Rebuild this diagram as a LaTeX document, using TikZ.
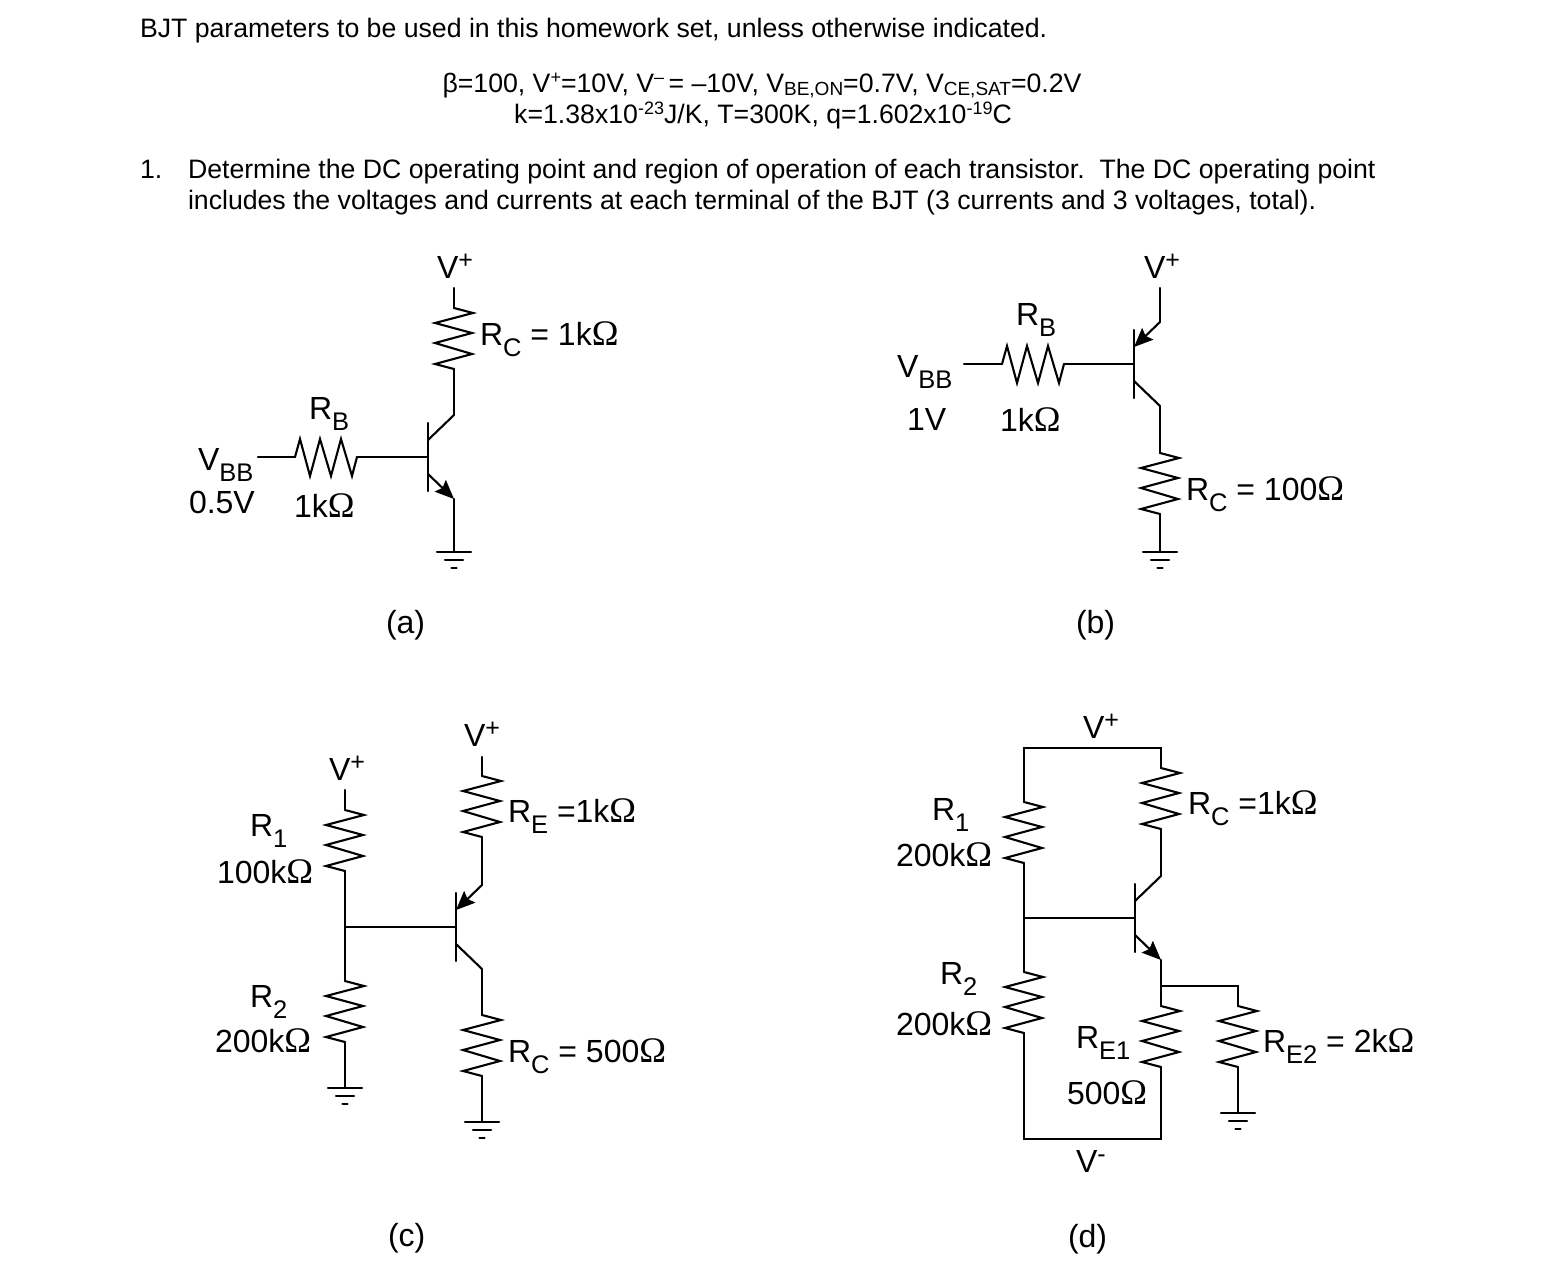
\documentclass[tikz,border=0pt]{standalone}
\usepackage{fontspec}
\setmainfont{Liberation Sans}
\newfontfamily\omgfont{Liberation Serif}
\usetikzlibrary{arrows.meta}
\newcommand{\Ohm}{{\omgfont\fontsize{36}{36}\selectfont Ω}}
\newcommand{\lsb}[1]{\raisebox{-11pt}{\fontsize{25.5}{25.5}\selectfont #1}}
\newcommand{\lsp}[1]{\raisebox{10pt}{\fontsize{25}{25}\selectfont #1}}
\newcommand{\tsb}[1]{\raisebox{-3.5pt}{\fontsize{19}{19}\selectfont #1}}
\newcommand{\tsp}[1]{\raisebox{9pt}{\fontsize{18}{18}\selectfont #1}}
\tikzset{
 wire/.style={line width=2.1pt,line cap=round,line join=miter,black},
 tip/.style={wire,-{Stealth[length=19pt,width=16pt,inset=3pt]}},
 lbl/.style={inner sep=0pt,outer sep=0pt,anchor=base west,font=\fontsize{32}{32}\selectfont},
 txt/.style={inner sep=0pt,outer sep=0pt,anchor=base west,font=\fontsize{26.67}{26.67}\selectfont},
 ctr/.style={inner sep=0pt,outer sep=0pt,anchor=base,font=\fontsize{26.67}{26.67}\selectfont}
}
% vertical resistor: name, x, y top
\newcommand{\vres}[3]{%
 \coordinate (#1-t) at (#2,#3);
 \coordinate (#1-b) at (#2,#3+61);
 \draw[wire] (#1-t) -- ++(19,5) -- ++(-38,10) -- ++(37,10) -- ++(-37,10) -- ++(37,11) -- ++(-37,10) -- (#1-b);}
% horizontal resistor: name, x left, y
\newcommand{\hres}[3]{%
 \coordinate (#1-l) at (#2,#3);
 \coordinate (#1-r) at (#2+62,#3);
 \draw[wire] (#1-l) -- ++(5,-18) -- ++(10,37) -- ++(10,-37) -- ++(11,37) -- ++(10,-37) -- ++(11,37) -- (#1-r);}
% transistor: name, bar x, base y
\newcommand{\bjtcoords}[3]{%
 \coordinate (#1-b) at (#2,#3);
 \coordinate (#1-u) at (#2,#3-17);
 \coordinate (#1-d) at (#2,#3+17);
 \coordinate (#1-ut) at (#2+26,#3-42);
 \coordinate (#1-dt) at (#2+26,#3+42);
 \draw[wire] (#2,#3-34) -- (#2,#3+34);}
\newcommand{\npn}[3]{\bjtcoords{#1}{#2}{#3}%
 \draw[wire] (#1-u) -- (#1-ut);
 \draw[tip] (#1-d) -- (#1-dt);}
\newcommand{\pnp}[3]{\bjtcoords{#1}{#2}{#3}%
 \draw[wire] (#1-d) -- (#1-dt);
 \draw[tip] (#1-ut) -- (#1-u);}
% ground: name, x, y
\newcommand{\gnd}[3]{%
 \coordinate (#1) at (#2,#3);
 \draw[wire] (#2-17,#3) -- (#2+17,#3);
 \draw[wire] (#2-9,#3+8) -- (#2+9,#3+8);
 \draw[wire] (#2-2.5,#3+16) -- (#2+2.5,#3+16);}
\begin{document}
\begin{tikzpicture}[x=1pt,y=-1pt]
\path[use as bounding box,fill=white] (0,0) rectangle (1548,1288);
% header
\node[txt] (h1) at (140,37) {BJT parameters to be used in this homework set, unless otherwise indicated.};
\node[ctr] (h2) at (762,92) {β=100, V\tsp{+}=10V, V\tsp{–}\,= –10V, V\tsb{BE,ON}=0.7V, V\tsb{CE,SAT}=0.2V};
\node[ctr] (h3) at (763,123) {k=1.38x10\tsp{-23}J/K, T=300K, q=1.602x10\tsp{-19}C};
\node[txt] (q0) at (140,178) {1.};
\node[txt] (q1) at (188,178) {Determine the DC operating point and region of operation of each transistor.\ \ The DC operating point};
\node[txt] (q2) at (188,209) {includes the voltages and currents at each terminal of the BJT (3 currents and 3 voltages, total).};

% ---------- (a)
\coordinate (a-top) at (454,288);
\vres{a-rc}{454}{308}
\npn{a-q}{428}{457}
\hres{a-rb}{295}{457}
\coordinate (a-vbb) at (258,457);
\gnd{a-g}{454}{552}
\draw[wire] (a-top) -- (a-rc-t);
\draw[wire] (a-rc-b) -- (a-q-ut);
\draw[wire] (a-q-dt) -- (a-g);
\draw[wire] (a-vbb) -- (a-rb-l);
\draw[wire] (a-rb-r) -- (a-q-b);
\node[lbl] (a-l1) at (437,278) {V\lsp{+}};
\node[lbl] (a-l2) at (480,345) {R\lsb{C} = 1k\Ohm};
\node[lbl] (a-l3) at (309,419) {R\lsb{B}};
\node[lbl] (a-l4) at (198,470) {V\lsb{BB}};
\node[lbl] (a-l5) at (189,513) {0.5V};
\node[lbl] (a-l6) at (294,517) {1k\Ohm};
\node[lbl] (a-l7) at (386,633) {(a)};

% ---------- (b)
\coordinate (b-top) at (1160,288);
\pnp{b-q}{1134}{364}
\hres{b-rb}{1002}{364}
\coordinate (b-vbb) at (964,364);
\vres{b-rc}{1160}{453}
\gnd{b-g}{1160}{552}
\draw[wire] (b-top) -- (b-q-ut);
\draw[wire] (b-q-dt) -- (b-rc-t);
\draw[wire] (b-rc-b) -- (b-g);
\draw[wire] (b-vbb) -- (b-rb-l);
\draw[wire] (b-rb-r) -- (b-q-b);
\node[lbl] (b-l1) at (1144,278) {V\lsp{+}};
\node[lbl] (b-l2) at (1016,325) {R\lsb{B}};
\node[lbl] (b-l3) at (897,377) {V\lsb{BB}};
\node[lbl] (b-l4) at (907,430) {1V};
\node[lbl] (b-l5) at (1000,431) {1k\Ohm};
\node[lbl] (b-l6) at (1186,500) {R\lsb{C} = 100\Ohm};
\node[lbl] (b-l7) at (1076,633) {(b)};

% ---------- (c)
\coordinate (c-top1) at (345,790);
\vres{c-r1}{345}{810}
\coordinate (c-j) at (345,927);
\vres{c-r2}{345}{981}
\gnd{c-g1}{345}{1088}
\coordinate (c-top2) at (482,757);
\vres{c-re}{482}{776}
\pnp{c-q}{456}{927}
\vres{c-rc}{482}{1015}
\gnd{c-g2}{482}{1122}
\draw[wire] (c-top1) -- (c-r1-t);
\draw[wire] (c-r1-b) -- (c-r2-t);
\draw[wire] (c-r2-b) -- (c-g1);
\draw[wire] (c-j) -- (c-q-b);
\draw[wire] (c-top2) -- (c-re-t);
\draw[wire] (c-re-b) -- (c-q-ut);
\draw[wire] (c-q-dt) -- (c-rc-t);
\draw[wire] (c-rc-b) -- (c-g2);
\node[lbl] (c-l1) at (329,780) {V\lsp{+}};
\node[lbl] (c-l2) at (464,746) {V\lsp{+}};
\node[lbl] (c-l3) at (250,836) {R\lsb{1}};
\node[lbl] (c-l4) at (217,883) {100k\Ohm};
\node[lbl] (c-l5) at (250,1007) {R\lsb{2}};
\node[lbl] (c-l6) at (215,1052) {200k\Ohm};
\node[lbl] (c-l7) at (508,822) {R\lsb{E} =1k\Ohm};
\node[lbl] (c-l8) at (508,1062) {R\lsb{C} = 500\Ohm};
\node[lbl] (c-l9) at (388,1246) {(c)};

% ---------- (d)
\coordinate (d-tl) at (1024,748);
\coordinate (d-tr) at (1161,748);
\coordinate (d-bl) at (1024,1139);
\coordinate (d-br) at (1161,1139);
\vres{d-r1}{1024}{802}
\vres{d-r2}{1024}{972}
\coordinate (d-j) at (1024,918);
\vres{d-rc}{1161}{768}
\npn{d-q}{1135}{918}
\coordinate (d-je) at (1161,986);
\coordinate (d-jr) at (1238,986);
\vres{d-re1}{1161}{1006}
\vres{d-re2}{1238}{1006}
\gnd{d-g}{1238}{1113}
\draw[wire] (d-r1-t) -- (d-tl) -- (d-tr) -- (d-rc-t);
\draw[wire] (d-r1-b) -- (d-r2-t);
\draw[wire] (d-r2-b) -- (d-bl) -- (d-br) -- (d-re1-b);
\draw[wire] (d-j) -- (d-q-b);
\draw[wire] (d-rc-b) -- (d-q-ut);
\draw[wire] (d-q-dt) -- (d-re1-t);
\draw[wire] (d-je) -- (d-jr) -- (d-re2-t);
\draw[wire] (d-re2-b) -- (d-g);
\node[lbl] (d-l1) at (1083,738) {V\lsp{+}};
\node[lbl] (d-l2) at (932,820) {R\lsb{1}};
\node[lbl] (d-l3) at (896,866) {200k\Ohm};
\node[lbl] (d-l4) at (1188,814) {R\lsb{C} =1k\Ohm};
\node[lbl] (d-l5) at (940,984) {R\lsb{2}};
\node[lbl] (d-l6) at (896,1035) {200k\Ohm};
\node[lbl] (d-l7) at (1076,1048) {R\lsb{E1}};
\node[lbl] (d-l8) at (1067,1104) {500\Ohm};
\node[lbl] (d-l9) at (1263,1052) {R\lsb{E2} = 2k\Ohm};
\node[lbl] (d-l10) at (1076,1172) {V\lsp{-}};
\node[lbl] (d-l11) at (1068,1247) {(d)};
\end{tikzpicture}
\end{document}
